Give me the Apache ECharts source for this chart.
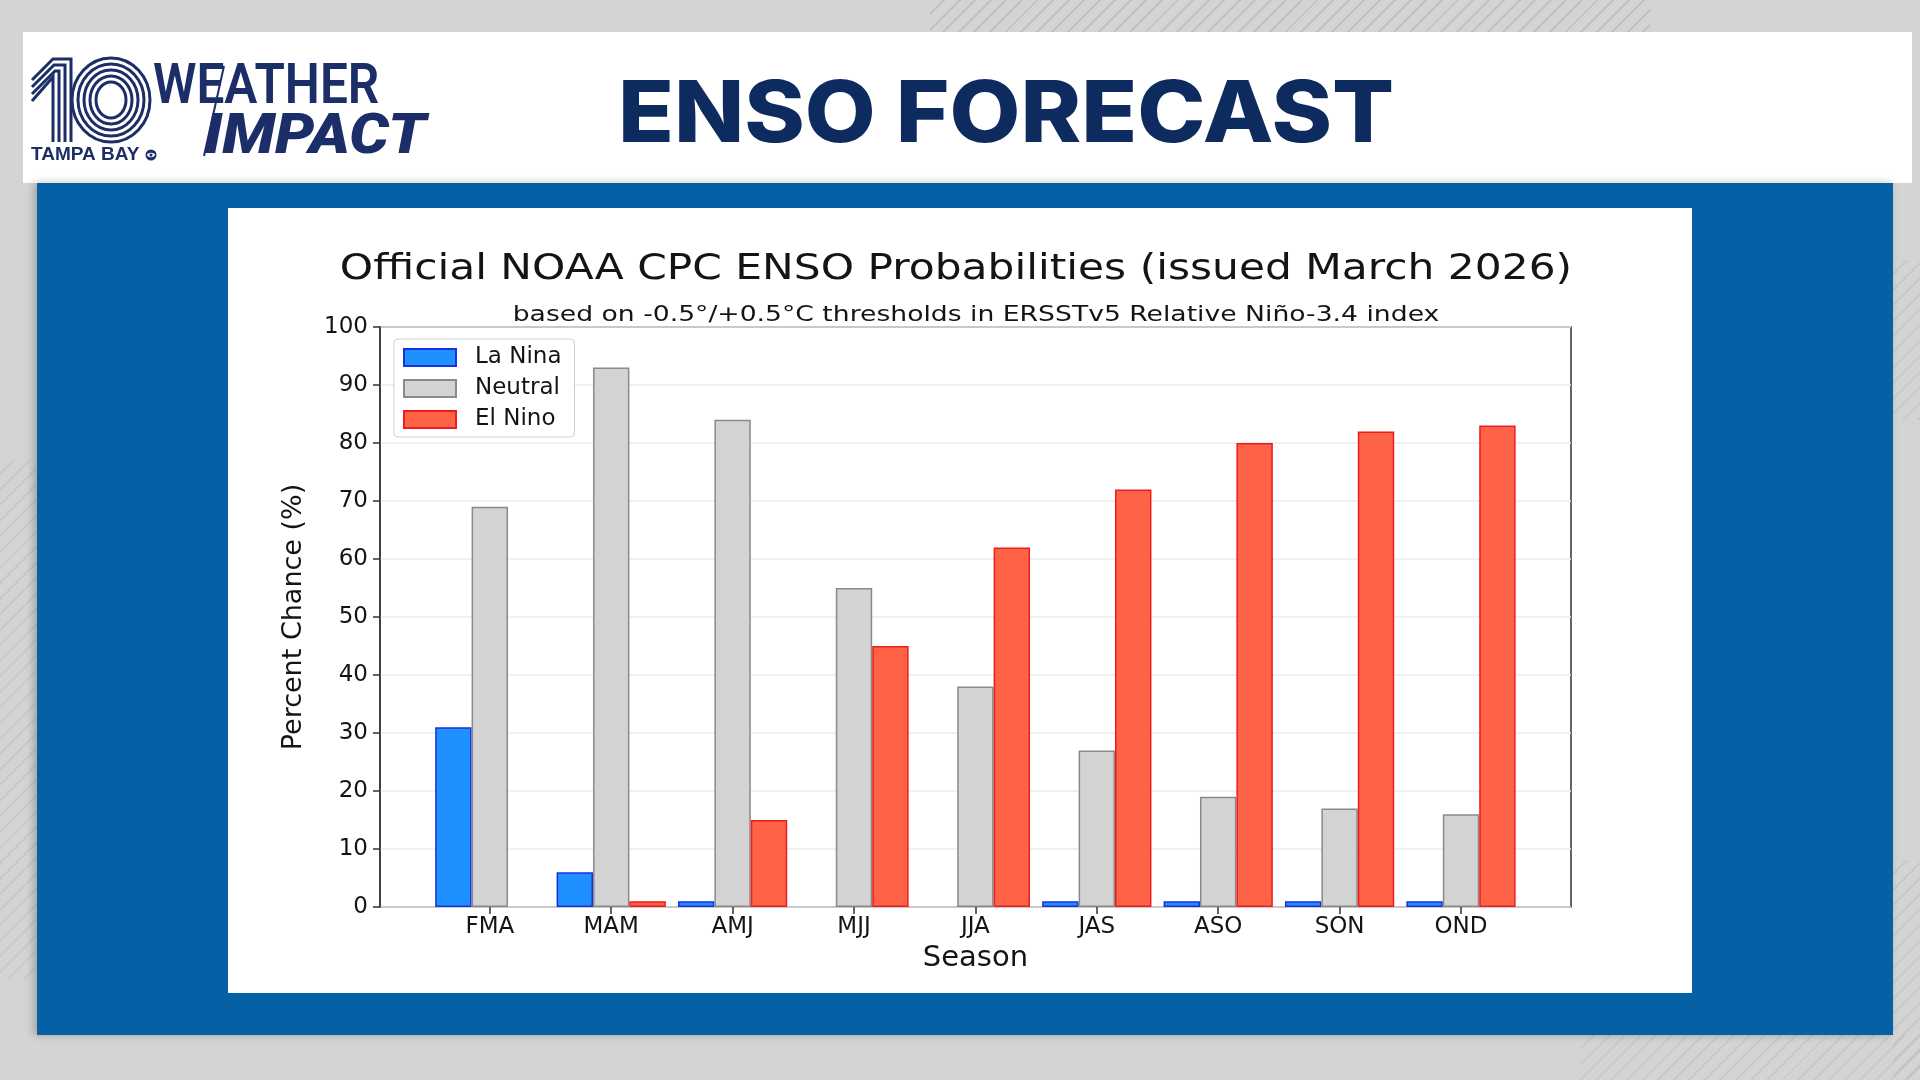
<!DOCTYPE html>
<html>
<head>
<meta charset="utf-8">
<script src="https://cdn.jsdelivr.net/npm/echarts@6/dist/echarts.min.js"></script>
<style>
  html, body { margin: 0; padding: 0; width: 1920px; height: 1080px; overflow: hidden; background: #d4d4d4; }
  .hatch { position: absolute; background: repeating-linear-gradient(135deg, rgba(255,255,255,0) 0px, rgba(255,255,255,0) 9px, rgba(160,160,160,0.35) 9px, rgba(160,160,160,0.35) 11px); }
  #chart { position: absolute; left: 0; top: 0; width: 1920px; height: 1080px; }
</style>
</head>
<body>
<div class="hatch" style="left:930px;top:0;width:720px;height:32px;"></div>
<div class="hatch" style="left:0;top:460px;width:36px;height:520px;opacity:0.6"></div>
<div class="hatch" style="left:1893px;top:260px;width:27px;height:160px;opacity:0.6"></div>
<div class="hatch" style="left:1893px;top:860px;width:27px;height:220px;opacity:0.6"></div>
<div class="hatch" style="left:1580px;top:1035px;width:340px;height:45px;opacity:0.6"></div>
<div id="chart"></div>
<script>
// ---- data ----
const seasons = ['FMA', 'MAM', 'AMJ', 'MJJ', 'JJA', 'JAS', 'ASO', 'SON', 'OND'];
const laNina  = [31, 6, 1, 0, 0, 1, 1, 1, 1];
const neutral = [69, 93, 84, 55, 38, 27, 19, 17, 16];
const elNino  = [0, 1, 15, 45, 62, 72, 80, 82, 83];
const seriesNames = ['La Nina', 'Neutral', 'El Nino'];
const yMin = 0, yMax = 100, yStep = 10;

const chartTitle = 'Official NOAA CPC ENSO Probabilities (issued March 2026)';
const chartSubtitle = 'based on -0.5\u00b0/+0.5\u00b0C thresholds in ERSSTv5 Relative Ni\u00f1o-3.4 index';
const headerTitle = 'ENSO FORECAST';

const chart = echarts.init(document.getElementById('chart'), null, { renderer: 'canvas' });
const NAVY = '#1c2e68';
const FONT = '"DejaVu Sans", sans-serif';
const TXT = '#141414';

// zero-height bars: no visible edge (hidden under the axis in the original)
const withZeroEdge = arr => arr.map(v => v === 0 ? { value: v, itemStyle: { borderWidth: 0 } } : v);

// Logo "1" stripes
const oneStripes = [];
for (let k = 0; k < 4; k++) {
  const right = 71 - 6 * k;
  const topY = 59 + 6 * k;
  const leftY = 80 + 7 * k;
  let xTop = 32 + (leftY - topY);
  if (xTop > right) xTop = right;
  oneStripes.push({
    type: 'polyline', z: -5,
    shape: { points: [[32, leftY], [xTop, topY], [right, topY], [right, 142]] },
    style: { stroke: NAVY, lineWidth: 3, fill: null }
  });
}
const zeroRings = [];
for (let k = 0; k < 5; k++) {
  zeroRings.push({
    type: 'ellipse', z: -5,
    shape: { cx: 111, cy: 100, rx: 39 - 6 * k, ry: 42 - 6 * k },
    style: { stroke: NAVY, lineWidth: 3, fill: null }
  });
}

const option = {
  backgroundColor: 'transparent',
  animation: false,
  graphic: [
    { type: 'rect', z: -20, shape: { x: 23, y: 32, width: 1889, height: 151 }, style: { fill: '#ffffff' } },
    { type: 'rect', z: -20, shape: { x: 37, y: 183, width: 1856, height: 852 }, style: { fill: '#0660a6', shadowBlur: 8, shadowColor: 'rgba(0,0,0,0.25)', shadowOffsetX: -3 } },
    { type: 'rect', z: -19, shape: { x: 228, y: 208, width: 1464, height: 785 }, style: { fill: '#ffffff' } },
    ...oneStripes,
    ...zeroRings,
    { type: 'text', z: -5, x: 31, y: 155, style: { text: 'TAMPA BAY', font: 'bold 19px "Liberation Sans", Arial, sans-serif', fill: NAVY, verticalAlign: 'middle', align: 'left' } },
    { type: 'circle', z: -5, shape: { cx: 151, cy: 155, r: 5.5 }, style: { fill: NAVY } },
    { type: 'ellipse', z: -4, shape: { cx: 151, cy: 155, rx: 4, ry: 2.2 }, style: { fill: '#ffffff' } },
    { type: 'circle', z: -3, shape: { cx: 151, cy: 155, r: 1.6 }, style: { fill: NAVY } },
    { type: 'text', z: -5, x: 153, y: 89, scaleX: 0.9, style: { text: 'WEATHER', font: '600 55px Roboto, sans-serif', fill: NAVY, verticalAlign: 'middle', align: 'left' } },
    { type: 'text', z: -5, x: 204, y: 139, scaleX: 1.13, style: { text: 'IMPACT', font: 'italic 900 55px Roboto, sans-serif', fill: NAVY, verticalAlign: 'middle', align: 'left' } },
    { type: 'line', z: -4, shape: { x1: 224, y1: 66, x2: 204, y2: 156 }, style: { stroke: NAVY, lineWidth: 2 } },
    { type: 'text', z: -5, x: 1006, y: 116, scaleX: 1.08, style: { text: headerTitle, font: '800 85px Inter, sans-serif', fill: '#0e2b5f', verticalAlign: 'middle', align: 'center' } },
    { type: 'text', z: 5, x: 956, y: 270, scaleX: 1.21, style: { text: chartTitle, font: '35px ' + FONT, fill: TXT, verticalAlign: 'middle', align: 'center' } },
    { type: 'text', z: 5, x: 976, y: 315, scaleX: 1.21, style: { text: chartSubtitle, font: '22px ' + FONT, fill: TXT, verticalAlign: 'middle', align: 'center' } }
  ],
  legend: {
    data: seriesNames,
    orient: 'vertical',
    left: 394, top: 339,
    icon: 'rect',
    itemWidth: 52, itemHeight: 17,
    itemGap: 8,
    padding: [7, 13, 6, 9],
    backgroundColor: '#ffffff',
    borderColor: '#d0d0d0', borderWidth: 1, borderRadius: 4,
    textStyle: { fontFamily: FONT, fontSize: 23, color: TXT, padding: [0, 0, 0, 14] },
    selectedMode: false
  },
  grid: [
    { left: 380, top: 327, width: 1191, height: 580, show: true, borderColor: '#333333', borderWidth: 1.5, backgroundColor: 'transparent' },
    { left: 429.1, top: 327, width: 1092.6, height: 580 }
  ],
  xAxis: [
    { gridIndex: 0, type: 'value', min: 0, max: 1, show: false },
    {
      gridIndex: 1, type: 'category', data: seasons,
      axisLine: { show: false },
      axisTick: { show: true, alignWithLabel: true, length: 7, lineStyle: { color: '#333', width: 1.5 } },
      axisLabel: { fontFamily: FONT, fontSize: 23, color: TXT, margin: 9 },
      name: 'Season', nameLocation: 'middle', nameGap: 33,
      nameTextStyle: { fontFamily: FONT, fontSize: 29, color: TXT }
    }
  ],
  yAxis: [
    {
      gridIndex: 0, type: 'value', min: yMin, max: yMax, interval: yStep,
      axisLine: { show: true, lineStyle: { color: '#333', width: 1.5 } },
      axisTick: { show: true, length: 7, lineStyle: { color: '#333', width: 1.5 } },
      axisLabel: { fontFamily: FONT, fontSize: 23, color: TXT, margin: 12 },
      splitLine: { show: true, lineStyle: { color: '#ebebeb', width: 1.5 } },
      name: 'Percent Chance (%)', nameLocation: 'middle', nameGap: 73,
      nameTextStyle: { fontFamily: FONT, fontSize: 27, color: TXT }
    },
    { gridIndex: 1, type: 'value', min: yMin, max: yMax, show: false }
  ],
  series: [
    { name: seriesNames[0], type: 'bar', xAxisIndex: 1, yAxisIndex: 1, data: withZeroEdge(laNina), barGap: '0%', barCategoryGap: '10%',
      itemStyle: { color: '#1e90ff', borderColor: '#1a2fe0', borderWidth: 1.5 } },
    { name: seriesNames[1], type: 'bar', xAxisIndex: 1, yAxisIndex: 1, data: withZeroEdge(neutral), barGap: '0%', barCategoryGap: '10%',
      itemStyle: { color: '#d3d3d3', borderColor: '#8a8a8a', borderWidth: 1.5 } },
    { name: seriesNames[2], type: 'bar', xAxisIndex: 1, yAxisIndex: 1, data: withZeroEdge(elNino), barGap: '0%', barCategoryGap: '10%',
      itemStyle: { color: '#ff6347', borderColor: '#ee1c1c', borderWidth: 1.5 } }
  ]
};
chart.setOption(option);
</script>
</body>
</html>
